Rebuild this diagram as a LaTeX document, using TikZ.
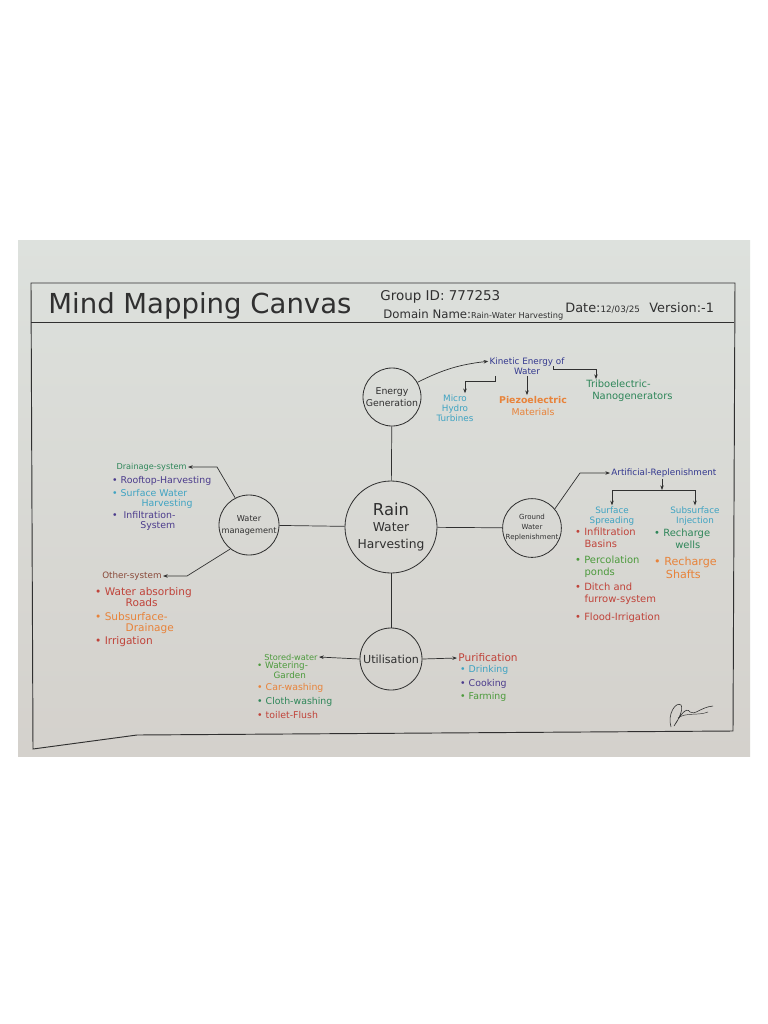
\documentclass[tikz,border=0pt]{standalone}
\usepackage{fontspec}
\setmainfont{DejaVu Sans}
\usepackage{xcolor}
\usepackage{tikz}
\usetikzlibrary{arrows.meta, positioning, calc}

\definecolor{ink}{HTML}{303030}
\definecolor{paperMid}{HTML}{E7E8E5}
\definecolor{paperTop}{HTML}{DDE1DD}
\definecolor{paperBot}{HTML}{D4D1CC}
\definecolor{navyInk}{HTML}{34398F}
\definecolor{indigoInk}{HTML}{4B3B8C}
\definecolor{cyanInk}{HTML}{3FA3C2}
\definecolor{orangeInk}{HTML}{E8833A}
\definecolor{greenInk}{HTML}{2E8659}
\definecolor{leafInk}{HTML}{4C9A3C}
\definecolor{redInk}{HTML}{C0433A}
\definecolor{brownInk}{HTML}{8A4A3A}

\newcommand{\fsz}[2]{\fontsize{#1}{#2}\selectfont}

\begin{document}
\begin{tikzpicture}[x=0.03cm, y=-0.03cm,
    hub/.style={circle, draw=ink, line width=0.7pt, inner sep=0pt, align=center, text=ink},
    tag/.style={inner sep=1pt, align=center},
    item/.style={anchor=north west, inner sep=0pt, align=left, font=\fsz{8}{9.5}},
    link/.style={draw=ink, line width=0.6pt},
    arr/.style={link, -{Stealth[length=4pt, width=3pt]}}
  ]
  \fill[white] (0,0) rectangle (768,1024);
  \useasboundingbox (0,0) rectangle (768,1024);

  % sheet and frame
  \shade[top color=paperTop, middle color=paperMid, bottom color=paperBot] (18,240) rectangle (750,756);
  \draw[ink, line width=0.8pt] (31,283) -- (735,283) -- (733,731) -- (137,735) -- (33,749) -- cycle;
  \draw[ink, line width=0.8pt] (31,322) -- (734,322);

  % header
  \node[tag, anchor=west, font=\fsz{23.5}{26}, text=ink] (title) at (47,306) {Mind Mapping Canvas};
  \node[tag, anchor=west, font=\fsz{11.5}{13}, text=ink] (group) at (379,297) {Group ID: 777253};
  \node[tag, anchor=west, font=\fsz{10}{12}, text=ink] (domain) at (382,315) {Domain Name:{\fsz{7}{8}Rain-Water Harvesting}};
  \node[tag, anchor=west, font=\fsz{11}{12}, text=ink] (date) at (564,308) {Date:{\fsz{7.5}{8}12/03/25}};
  \node[tag, anchor=west, font=\fsz{11}{12}, text=ink] (version) at (648,308) {Version:-1};

  % circles
  \node[hub, minimum size=2.76cm, font=\fsz{10.5}{14}] (core) at (391,527) {{\fsz{14}{16}Rain}\\Water\\Harvesting};
  \node[hub, minimum size=1.74cm, font=\fsz{8}{10}] (energy) at (392,397) {Energy\\Generation};
  \node[hub, minimum size=1.8cm, font=\fsz{7}{10}] (manage) at (249,525) {Water\\management};
  \node[hub, minimum size=1.74cm, font=\fsz{6}{8.5}] (ground) at (532,528) {Ground\\Water\\Replenishment};
  \node[hub, minimum size=1.86cm, font=\fsz{9.5}{11}] (util) at (391,659) {Utilisation};

  \draw[link] (core) -- (energy);
  \draw[link] (core) -- (manage);
  \draw[link] (core) -- (ground);
  \draw[link] (core) -- (util);

  % energy generation
  \node[tag, font=\fsz{7.5}{8.5}, text=navyInk] (kin) at (527,366) {Kinetic Energy of\\Water};
  \node[tag, font=\fsz{7.5}{8.5}, text=cyanInk] (micro) at (455,408) {Micro\\Hydro\\Turbines};
  \node[tag, font=\fsz{8}{10}, text=orangeInk] (piezo) at (533,406) {\bfseries Piezoelectric\\Materials};
  \node[tag, anchor=north west, align=left, font=\fsz{8.5}{9.5}, text=greenInk] (tribo) at (585,379) {Triboelectric-\\\hspace*{5pt}Nanogenerators};

  \draw[arr] (energy.30) to[bend left=10] (kin.173);
  \draw[arr] ($(kin.south west)+(7,0)$) -- ++(0,6) -| ($(micro.north)+(10,0)$);
  \draw[arr] (kin.south) -- (kin.south |- piezo.north);
  \draw[arr] ($(kin.east)+(-12,0)$) -- ++(0,3) -| ($(tribo.north west)+(11,0)$);

  % water management
  \node[tag, anchor=east, font=\fsz{7}{8}, text=greenInk] (drain) at (188,467) {Drainage-system};
  \node[item, text=indigoInk] (roof) at (112,476) {\textbullet\ Rooftop-Harvesting};
  \node[item, font=\fsz{8}{8.5}, text=cyanInk] (surf) at (112,489) {\textbullet\ Surface Water\\\hspace*{25pt}Harvesting};
  \node[item, font=\fsz{8}{8.5}, text=indigoInk] (infil) at (112,511) {\textbullet\ \ Infiltration-\\\hspace*{24pt}System};
  \node[tag, anchor=east, font=\fsz{7.5}{8}, text=brownInk] (other) at (163,576) {Other-system};
  \node[item, font=\fsz{9}{10}, text=redInk] (roads) at (95,587) {\textbullet\ Water absorbing\\\hspace*{26pt}Roads};
  \node[item, font=\fsz{9}{10}, text=orangeInk] (subdrain) at (95,612) {\textbullet\ Subsurface-\\\hspace*{26pt}Drainage};
  \node[item, font=\fsz{9}{10}, text=redInk] (irrig) at (95,636) {\textbullet\ Irrigation};

  \draw[arr] (manage.117) -- ($(drain.east)+(29,0)$) -- (drain.east);
  \draw[arr] (manage.232) -- ($(other.east)+(24,0)$) -- (other.east);

  % ground water replenishment
  \node[tag, anchor=west, font=\fsz{7.5}{8}, text=navyInk] (art) at (610,473) {Artificial-Replenishment};
  \node[tag, font=\fsz{7.5}{8.5}, text=cyanInk] (spread) at (612,516) {Surface\\Spreading};
  \node[tag, font=\fsz{7.5}{8.5}, text=cyanInk] (inject) at (695,516) {Subsurface\\Injection};
  \node[item, font=\fsz{8.5}{10}, text=redInk] (basin) at (575,528) {\textbullet\ Infiltration\\\hspace*{8pt}Basins};
  \node[item, font=\fsz{8.5}{10}, text=leafInk] (perc) at (575,556) {\textbullet\ Percolation\\\hspace*{8pt}ponds};
  \node[item, font=\fsz{8.5}{10}, text=redInk] (ditch) at (575,583) {\textbullet\ Ditch and\\\hspace*{8pt}furrow-system};
  \node[item, font=\fsz{8.5}{10}, text=redInk] (flood) at (575,613) {\textbullet\ Flood-Irrigation};
  \node[item, font=\fsz{8.5}{10}, text=greenInk] (wells) at (654,529) {\textbullet\ Recharge\\\hspace*{18pt}wells};
  \node[item, font=\fsz{9.5}{11}, text=orangeInk] (shafts) at (654,557) {\textbullet\ Recharge\\\hspace*{10pt}Shafts};

  \coordinate (split) at (662,490);
  \draw[arr] (ground.40) -- ($(art.west)+(-30,0)$) -- (art.west);
  \draw[arr] (split |- art.south) -- (split);
  \draw[arr] (split) -| (spread.north);
  \draw[arr] (split) -| (inject.north);

  % utilisation
  \node[tag, anchor=east, font=\fsz{7}{8}, text=leafInk] (stored) at (319,657) {Stored-water};
  \node[item, font=\fsz{7.5}{8.5}, text=leafInk] (garden) at (257,662) {\textbullet\ Watering-\\\hspace*{14pt}Garden};
  \node[item, text=orangeInk] (car) at (257,683) {\textbullet\ Car-washing};
  \node[item, text=greenInk] (cloth) at (257,697) {\textbullet\ Cloth-washing};
  \node[item, text=redInk] (toilet) at (257,711) {\textbullet\ toilet-Flush};
  \node[tag, anchor=west, font=\fsz{9}{10}, text=redInk] (puri) at (457,658) {Purification};
  \node[item, text=cyanInk] (drink) at (460,665) {\textbullet\ Drinking};
  \node[item, text=indigoInk] (cook) at (460,679) {\textbullet\ Cooking};
  \node[item, text=leafInk] (farm) at (460,692) {\textbullet\ Farming};

  \draw[arr] (util.west) -- (stored.east);
  \draw[arr] (util.east) -- (puri.west);

  % signature
  \draw[ink, line width=0.5pt] (671,727) .. controls (667,714) and (676,701) .. (681,705)
    .. controls (684,710) and (677,722) .. (674,726) .. controls (680,716) and (686,706) .. (690,712)
    .. controls (694,716) and (701,707) .. (713,706);
  \draw[ink, line width=0.4pt] (678,718) .. controls (686,712) and (698,716) .. (708,712);
\end{tikzpicture}
\end{document}
